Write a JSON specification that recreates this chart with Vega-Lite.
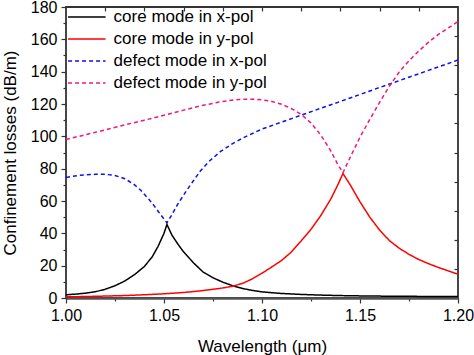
{
  "$schema": "https://vega.github.io/schema/vega-lite/v6.json",
  "width": 392,
  "height": 291,
  "autosize": {"type": "none"},
  "padding": {"left": 66, "top": 7, "right": 16, "bottom": 57},
  "background": "white",
  "config": {
    "view": {"stroke": "#333333", "strokeWidth": 1.8},
    "axis": {
      "domain": false,
      "grid": false,
      "tickColor": "#333333",
      "tickWidth": 1.2,
      "labelFont": "Liberation Sans",
      "labelFontSize": 16,
      "labelColor": "#000000",
      "labelFlush": false,
      "labelOverlap": false,
      "titleFont": "Liberation Sans",
      "titleFontSize": 17,
      "titleFontWeight": "normal",
      "titleColor": "#000000"
    },
    "legend": {
      "labelFont": "Liberation Sans",
      "labelFontSize": 17,
      "labelColor": "#000000"
    }
  },
  "data": {
    "values": [
      {"series": "core mode in x-pol", "wl": 1.000, "loss": 2.0},
      {"series": "core mode in x-pol", "wl": 1.005, "loss": 2.4},
      {"series": "core mode in x-pol", "wl": 1.010, "loss": 3.0},
      {"series": "core mode in x-pol", "wl": 1.015, "loss": 3.9},
      {"series": "core mode in x-pol", "wl": 1.020, "loss": 5.4},
      {"series": "core mode in x-pol", "wl": 1.025, "loss": 7.6},
      {"series": "core mode in x-pol", "wl": 1.030, "loss": 10.5},
      {"series": "core mode in x-pol", "wl": 1.035, "loss": 14.5},
      {"series": "core mode in x-pol", "wl": 1.040, "loss": 19.5},
      {"series": "core mode in x-pol", "wl": 1.044, "loss": 25.5},
      {"series": "core mode in x-pol", "wl": 1.047, "loss": 32.0},
      {"series": "core mode in x-pol", "wl": 1.050, "loss": 40.0},
      {"series": "core mode in x-pol", "wl": 1.0515, "loss": 45.5},
      {"series": "core mode in x-pol", "wl": 1.054, "loss": 39.0},
      {"series": "core mode in x-pol", "wl": 1.057, "loss": 33.5},
      {"series": "core mode in x-pol", "wl": 1.060, "loss": 28.5},
      {"series": "core mode in x-pol", "wl": 1.065, "loss": 21.8},
      {"series": "core mode in x-pol", "wl": 1.070, "loss": 16.0},
      {"series": "core mode in x-pol", "wl": 1.075, "loss": 12.5},
      {"series": "core mode in x-pol", "wl": 1.080, "loss": 9.8},
      {"series": "core mode in x-pol", "wl": 1.085, "loss": 7.6},
      {"series": "core mode in x-pol", "wl": 1.090, "loss": 5.9},
      {"series": "core mode in x-pol", "wl": 1.095, "loss": 4.7},
      {"series": "core mode in x-pol", "wl": 1.100, "loss": 3.8},
      {"series": "core mode in x-pol", "wl": 1.110, "loss": 2.8},
      {"series": "core mode in x-pol", "wl": 1.120, "loss": 2.2},
      {"series": "core mode in x-pol", "wl": 1.130, "loss": 1.8},
      {"series": "core mode in x-pol", "wl": 1.140, "loss": 1.5},
      {"series": "core mode in x-pol", "wl": 1.150, "loss": 1.3},
      {"series": "core mode in x-pol", "wl": 1.165, "loss": 1.1},
      {"series": "core mode in x-pol", "wl": 1.180, "loss": 1.0},
      {"series": "core mode in x-pol", "wl": 1.200, "loss": 0.9},

      {"series": "core mode in y-pol", "wl": 1.000, "loss": 0.7},
      {"series": "core mode in y-pol", "wl": 1.010, "loss": 0.9},
      {"series": "core mode in y-pol", "wl": 1.020, "loss": 1.2},
      {"series": "core mode in y-pol", "wl": 1.030, "loss": 1.5},
      {"series": "core mode in y-pol", "wl": 1.040, "loss": 2.0},
      {"series": "core mode in y-pol", "wl": 1.050, "loss": 2.6},
      {"series": "core mode in y-pol", "wl": 1.060, "loss": 3.4},
      {"series": "core mode in y-pol", "wl": 1.070, "loss": 4.6},
      {"series": "core mode in y-pol", "wl": 1.080, "loss": 6.2},
      {"series": "core mode in y-pol", "wl": 1.085, "loss": 7.3},
      {"series": "core mode in y-pol", "wl": 1.090, "loss": 9.0},
      {"series": "core mode in y-pol", "wl": 1.095, "loss": 11.8},
      {"series": "core mode in y-pol", "wl": 1.100, "loss": 15.3},
      {"series": "core mode in y-pol", "wl": 1.105, "loss": 19.2},
      {"series": "core mode in y-pol", "wl": 1.110, "loss": 23.2},
      {"series": "core mode in y-pol", "wl": 1.115, "loss": 28.5},
      {"series": "core mode in y-pol", "wl": 1.120, "loss": 35.3},
      {"series": "core mode in y-pol", "wl": 1.125, "loss": 42.5},
      {"series": "core mode in y-pol", "wl": 1.130, "loss": 51.0},
      {"series": "core mode in y-pol", "wl": 1.135, "loss": 61.0},
      {"series": "core mode in y-pol", "wl": 1.1385, "loss": 69.5},
      {"series": "core mode in y-pol", "wl": 1.1413, "loss": 77.0},
      {"series": "core mode in y-pol", "wl": 1.145, "loss": 70.0},
      {"series": "core mode in y-pol", "wl": 1.150, "loss": 59.5},
      {"series": "core mode in y-pol", "wl": 1.155, "loss": 50.0},
      {"series": "core mode in y-pol", "wl": 1.160, "loss": 42.0},
      {"series": "core mode in y-pol", "wl": 1.165, "loss": 35.5},
      {"series": "core mode in y-pol", "wl": 1.170, "loss": 30.8},
      {"series": "core mode in y-pol", "wl": 1.175, "loss": 27.0},
      {"series": "core mode in y-pol", "wl": 1.180, "loss": 23.8},
      {"series": "core mode in y-pol", "wl": 1.185, "loss": 21.2},
      {"series": "core mode in y-pol", "wl": 1.190, "loss": 18.9},
      {"series": "core mode in y-pol", "wl": 1.195, "loss": 16.8},
      {"series": "core mode in y-pol", "wl": 1.200, "loss": 14.7},

      {"series": "defect mode in x-pol", "wl": 1.000, "loss": 74.6},
      {"series": "defect mode in x-pol", "wl": 1.007, "loss": 75.9},
      {"series": "defect mode in x-pol", "wl": 1.015, "loss": 76.5},
      {"series": "defect mode in x-pol", "wl": 1.020, "loss": 76.5},
      {"series": "defect mode in x-pol", "wl": 1.025, "loss": 75.8},
      {"series": "defect mode in x-pol", "wl": 1.030, "loss": 73.8},
      {"series": "defect mode in x-pol", "wl": 1.035, "loss": 70.0},
      {"series": "defect mode in x-pol", "wl": 1.038, "loss": 66.8},
      {"series": "defect mode in x-pol", "wl": 1.042, "loss": 61.5},
      {"series": "defect mode in x-pol", "wl": 1.045, "loss": 57.0},
      {"series": "defect mode in x-pol", "wl": 1.048, "loss": 52.0},
      {"series": "defect mode in x-pol", "wl": 1.0515, "loss": 46.5},
      {"series": "defect mode in x-pol", "wl": 1.054, "loss": 51.5},
      {"series": "defect mode in x-pol", "wl": 1.057, "loss": 58.0},
      {"series": "defect mode in x-pol", "wl": 1.0617, "loss": 66.8},
      {"series": "defect mode in x-pol", "wl": 1.065, "loss": 72.5},
      {"series": "defect mode in x-pol", "wl": 1.0685, "loss": 78.5},
      {"series": "defect mode in x-pol", "wl": 1.073, "loss": 84.5},
      {"series": "defect mode in x-pol", "wl": 1.0787, "loss": 90.5},
      {"series": "defect mode in x-pol", "wl": 1.085, "loss": 95.5},
      {"series": "defect mode in x-pol", "wl": 1.0906, "loss": 99.2},
      {"series": "defect mode in x-pol", "wl": 1.100, "loss": 104.5},
      {"series": "defect mode in x-pol", "wl": 1.110, "loss": 108.8},
      {"series": "defect mode in x-pol", "wl": 1.120, "loss": 113.1},
      {"series": "defect mode in x-pol", "wl": 1.140, "loss": 121.6},
      {"series": "defect mode in x-pol", "wl": 1.160, "loss": 130.2},
      {"series": "defect mode in x-pol", "wl": 1.180, "loss": 138.7},
      {"series": "defect mode in x-pol", "wl": 1.200, "loss": 147.2},

      {"series": "defect mode in y-pol", "wl": 1.000, "loss": 98.1},
      {"series": "defect mode in y-pol", "wl": 1.010, "loss": 101.0},
      {"series": "defect mode in y-pol", "wl": 1.020, "loss": 104.0},
      {"series": "defect mode in y-pol", "wl": 1.030, "loss": 107.1},
      {"series": "defect mode in y-pol", "wl": 1.040, "loss": 110.0},
      {"series": "defect mode in y-pol", "wl": 1.050, "loss": 113.0},
      {"series": "defect mode in y-pol", "wl": 1.060, "loss": 116.2},
      {"series": "defect mode in y-pol", "wl": 1.070, "loss": 119.2},
      {"series": "defect mode in y-pol", "wl": 1.080, "loss": 121.6},
      {"series": "defect mode in y-pol", "wl": 1.088, "loss": 122.8},
      {"series": "defect mode in y-pol", "wl": 1.095, "loss": 123.0},
      {"series": "defect mode in y-pol", "wl": 1.100, "loss": 122.6},
      {"series": "defect mode in y-pol", "wl": 1.105, "loss": 121.6},
      {"series": "defect mode in y-pol", "wl": 1.110, "loss": 119.8},
      {"series": "defect mode in y-pol", "wl": 1.115, "loss": 117.2},
      {"series": "defect mode in y-pol", "wl": 1.120, "loss": 113.6},
      {"series": "defect mode in y-pol", "wl": 1.125, "loss": 108.3},
      {"series": "defect mode in y-pol", "wl": 1.130, "loss": 100.8},
      {"series": "defect mode in y-pol", "wl": 1.135, "loss": 91.2},
      {"series": "defect mode in y-pol", "wl": 1.1385, "loss": 83.0},
      {"series": "defect mode in y-pol", "wl": 1.1413, "loss": 77.5},
      {"series": "defect mode in y-pol", "wl": 1.144, "loss": 84.5},
      {"series": "defect mode in y-pol", "wl": 1.147, "loss": 92.0},
      {"series": "defect mode in y-pol", "wl": 1.150, "loss": 99.5},
      {"series": "defect mode in y-pol", "wl": 1.155, "loss": 110.5},
      {"series": "defect mode in y-pol", "wl": 1.160, "loss": 121.0},
      {"series": "defect mode in y-pol", "wl": 1.165, "loss": 131.0},
      {"series": "defect mode in y-pol", "wl": 1.170, "loss": 139.8},
      {"series": "defect mode in y-pol", "wl": 1.175, "loss": 146.7},
      {"series": "defect mode in y-pol", "wl": 1.180, "loss": 152.8},
      {"series": "defect mode in y-pol", "wl": 1.185, "loss": 158.3},
      {"series": "defect mode in y-pol", "wl": 1.190, "loss": 163.0},
      {"series": "defect mode in y-pol", "wl": 1.195, "loss": 167.0},
      {"series": "defect mode in y-pol", "wl": 1.200, "loss": 171.0}
    ]
  },
  "resolve": {"axis": {"x": "independent", "y": "independent"}},
  "layer": [
    {
      "mark": {"type": "line", "opacity": 0},
      "encoding": {
        "x": {"field": "wl", "type": "quantitative", "scale": {"domain": [1, 1.2], "nice": false, "zero": false},
          "axis": {"orient": "bottom", "title": null, "labels": false, "values": [1.025, 1.075, 1.125, 1.175], "tickSize": 3}},
        "y": {"field": "loss", "type": "quantitative", "scale": {"domain": [0, 180], "nice": false},
          "axis": {"orient": "left", "title": null, "labels": false, "values": [10, 30, 50, 70, 90, 110, 130, 150, 170], "tickSize": 3}},
        "detail": {"field": "series"}
      }
    },
    {
      "mark": {"type": "line", "opacity": 0},
      "encoding": {
        "x": {"field": "wl", "type": "quantitative",
          "axis": {"orient": "top", "title": null, "labels": false, "values": [1.02, 1.04, 1.06, 1.08, 1.1, 1.12, 1.14, 1.16, 1.18], "tickSize": -4}},
        "y": {"field": "loss", "type": "quantitative",
          "axis": {"orient": "right", "title": null, "labels": false, "values": [18, 36, 54, 72, 90, 108, 126, 144, 162], "tickSize": -4}},
        "detail": {"field": "series"}
      }
    },
    {
      "mark": {"type": "line", "strokeWidth": 1.5},
      "encoding": {
        "x": {"field": "wl", "type": "quantitative",
          "axis": {"orient": "bottom", "title": "Wavelength (\u03bcm)", "values": [1.0, 1.05, 1.1, 1.15, 1.2], "labelExpr": "format(datum.value, '.2f')", "tickSize": 5, "labelPadding": 4, "titlePadding": 15, "domain": true, "domainColor": "#555555", "domainWidth": 2.5}},
        "y": {"field": "loss", "type": "quantitative",
          "axis": {"orient": "left", "title": "Confinement losses (dB/m)", "values": [0, 20, 40, 60, 80, 100, 120, 140, 160, 180], "tickSize": 5, "labelPadding": 4, "titlePadding": 11}},
        "color": {"field": "series", "type": "nominal",
          "scale": {"domain": ["core mode in x-pol", "core mode in y-pol", "defect mode in x-pol", "defect mode in y-pol"],
            "range": ["#000000", "#ff0000", "#1010e8", "#f0187a"]},
          "legend": {"orient": "none", "legendX": 0, "legendY": 1.5, "title": null, "padding": 0,
            "symbolType": "M-2.5,0H2.5", "symbolSize": 225, "symbolStrokeWidth": 1.5, "symbolOffset": 12.3, "labelOffset": 18.3, "rowPadding": 4}},
        "strokeDash": {"field": "series", "type": "nominal",
          "scale": {"domain": ["core mode in x-pol", "core mode in y-pol", "defect mode in x-pol", "defect mode in y-pol"],
            "range": [[1, 0], [1, 0], [4, 3], [4, 3]]},
          "legend": {"orient": "none", "legendX": 0, "legendY": 1.5, "title": null, "padding": 0,
            "symbolType": "M-2.5,0H2.5", "symbolSize": 225, "symbolStrokeWidth": 1.5, "symbolOffset": 12.3, "labelOffset": 18.3, "rowPadding": 4}}
      }
    }
  ]
}
